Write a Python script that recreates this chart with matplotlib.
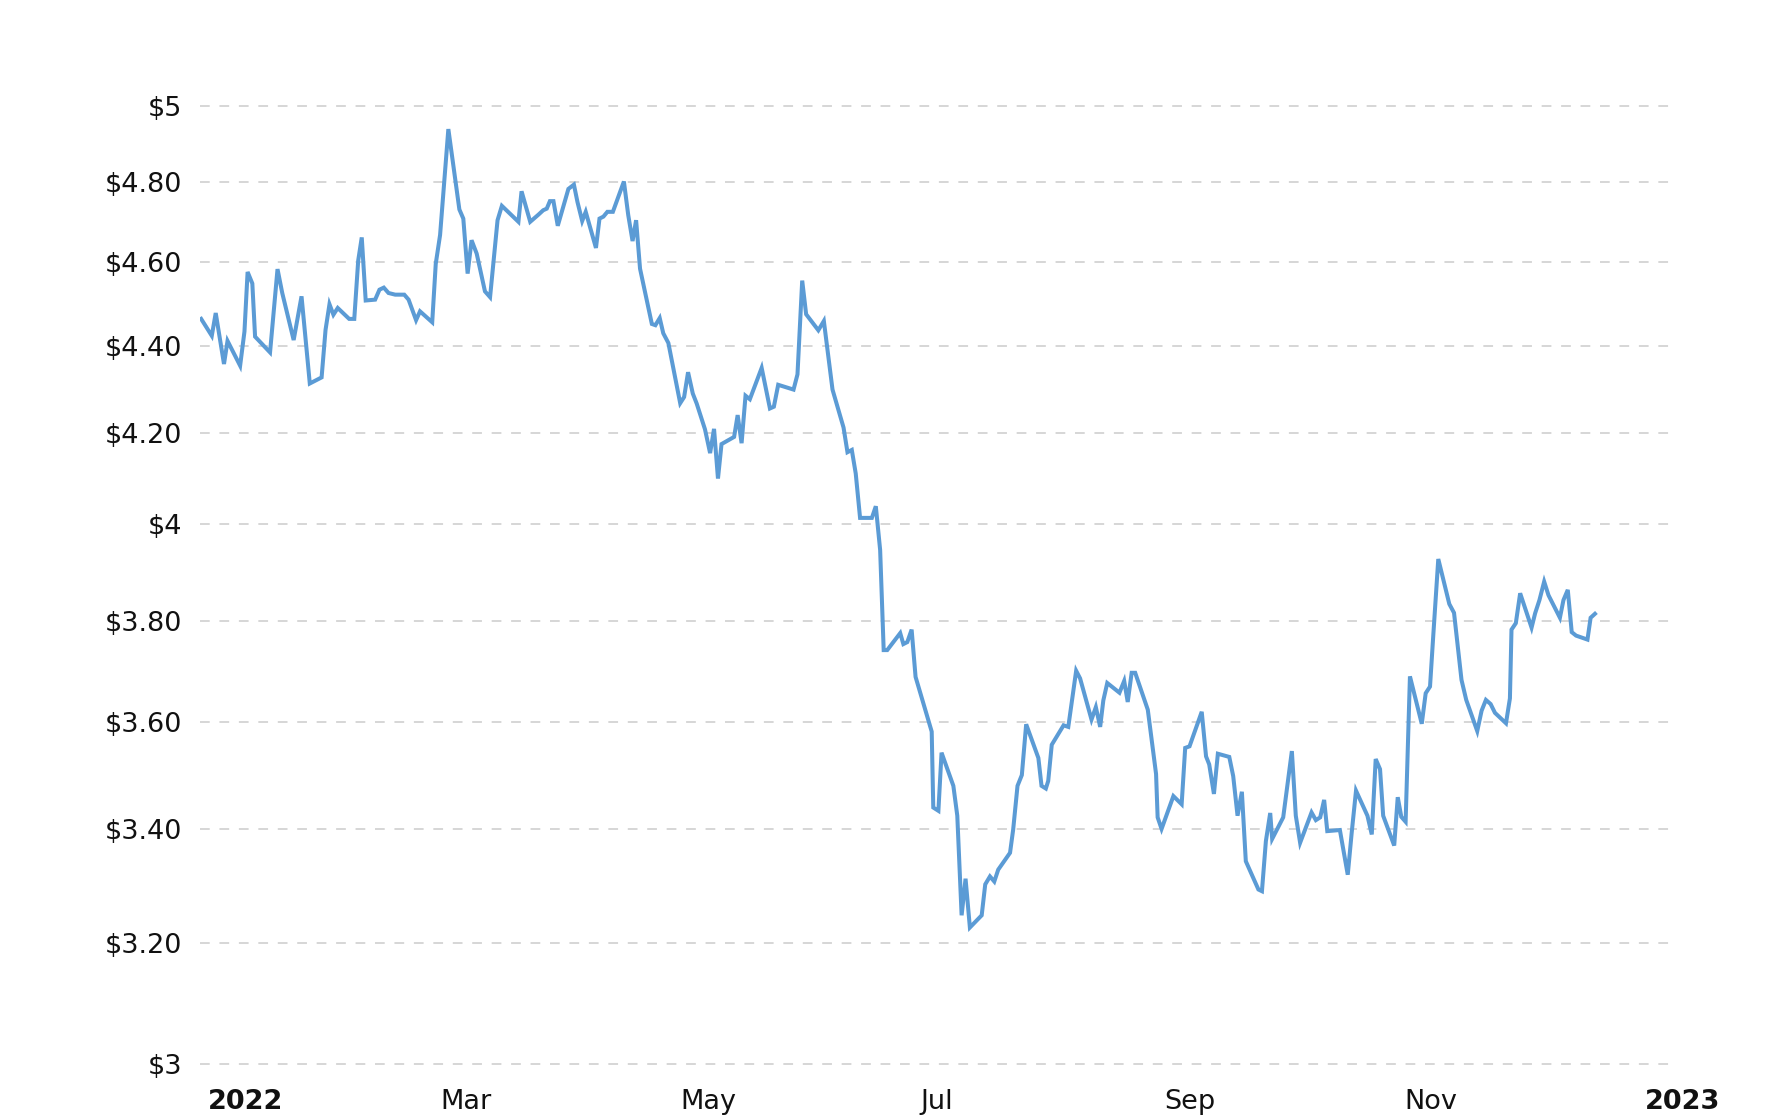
import matplotlib
matplotlib.use('Agg')
import matplotlib.pyplot as plt
import matplotlib.transforms as mtransforms
import pandas as pd

# days after 2022-01-01, price in $
days = [-0.7, 2.0, 3.0, 5.1, 6.0, 9.2, 10.3, 11.1, 12.3, 13.0,
        16.8, 18.7, 19.9, 22.8, 24.8, 26.9, 29.9, 30.9, 31.9, 32.9,
        34.0, 36.9, 38.2, 39.2, 40.1, 41.1, 43.5, 44.6, 45.7, 46.9,
        48.6, 50.9, 52.0, 53.9, 54.9, 58.0, 58.9, 60.0, 62.1, 64.9,
        65.9, 67.0, 68.0, 69.3, 71.4,
        72.7, 74.6, 75.7, 79.9, 80.7, 82.9, 85.0, 86.2, 87.1, 87.9,
        88.8, 89.9, 92.6, 94.0, 94.9, 96.1, 97.0, 99.6, 100.5, 101.5,
        102.5, 103.9, 106.7, 107.8, 108.9, 109.8, 110.8, 113.8, 114.7, 115.8,
        116.7, 118.0, 121.0, 122.0, 123.0, 124.2, 125.2, 127.3, 128.6,
        129.6, 130.6, 131.5, 134.7, 135.6, 136.6, 137.6, 138.7, 141.7, 143.8,
        144.8, 145.9, 149.8, 150.8, 152.0, 153.0, 156.1, 157.5, 159.7, 162.5,
        163.5, 164.6, 165.6, 166.7, 169.7, 170.7, 171.8, 172.7,
        173.6, 176.9, 177.7, 178.7, 179.8, 180.8, 182.8, 184.9, 185.3, 186.6,
        187.4, 190.4, 191.4, 192.5, 193.5, 194.6, 197.6, 198.5, 199.7, 200.8,
        201.8, 204.8, 205.6, 206.7,
        207.8, 208.9, 212.0, 212.8, 213.9, 214.5, 215.4, 218.4, 219.6, 221.6,
        222.6, 225.5, 226.6, 227.7, 228.5, 229.5, 232.6, 233.8, 234.7, 235.7,
        236.6, 239.8, 241.9, 242.3, 243.3, 246.3, 248.4, 249.3, 250.4, 253.5,
        254.6, 255.4, 256.6, 257.6, 260.5, 261.5, 262.6, 263.7, 264.7,
        267.9, 268.8, 269.8, 270.9, 271.4, 274.2, 276.4, 277.4, 278.5, 281.4,
        282.5, 283.6, 284.6, 285.4, 288.6, 290.6, 291.6, 292.7, 295.6, 296.7,
        297.7, 298.8, 299.6, 302.4, 303.3, 304.2, 305.3, 306.4, 309.4, 310.4,
        311.5, 312.3, 313.6, 316.4, 317.6, 319.5, 320.7,
        323.5, 324.6, 325.7, 326.9, 328.0, 330.8, 331.8, 332.2, 333.3, 334.4,
        337.3, 338.2, 339.3, 340.5, 341.6, 344.5, 345.4, 346.5, 347.5, 348.6,
        351.5, 352.3, 353.4]

prices = [4.463, 4.423, 4.477, 4.357, 4.411, 4.353, 4.433, 4.576, 4.548, 4.421,
          4.384, 4.583, 4.525, 4.413, 4.517, 4.312, 4.326, 4.437, 4.498, 4.473,
          4.489, 4.463, 4.463, 4.604, 4.661, 4.507, 4.509, 4.533, 4.538, 4.525,
          4.521, 4.521, 4.509, 4.460, 4.481, 4.455, 4.596, 4.667, 4.938, 4.731,
          4.708, 4.572, 4.654, 4.621, 4.529,
          4.515, 4.704, 4.740, 4.700, 4.777, 4.700, 4.718, 4.729, 4.733, 4.752,
          4.752, 4.690, 4.783, 4.794, 4.750, 4.702, 4.725, 4.635, 4.708, 4.713,
          4.725, 4.725, 4.802, 4.717, 4.652, 4.704, 4.584, 4.451, 4.448, 4.465,
          4.429, 4.406, 4.267, 4.281, 4.338, 4.289, 4.266, 4.208, 4.155,
          4.209, 4.099, 4.175, 4.191, 4.240, 4.177, 4.284, 4.276, 4.348, 4.255,
          4.259, 4.309, 4.298, 4.333, 4.555, 4.474, 4.436, 4.458, 4.298, 4.212,
          4.157, 4.162, 4.110, 4.014, 4.014, 4.039, 3.946, 3.741,
          3.741, 3.775, 3.753, 3.757, 3.782, 3.688, 3.636, 3.582, 3.440, 3.434,
          3.542, 3.480, 3.425, 3.248, 3.312, 3.227, 3.248, 3.302, 3.316, 3.307,
          3.328, 3.358, 3.400, 3.480,
          3.500, 3.596, 3.532, 3.480, 3.475, 3.489, 3.557, 3.594, 3.591, 3.700,
          3.685, 3.605, 3.629, 3.591, 3.642, 3.676, 3.657, 3.680, 3.639, 3.696,
          3.696, 3.624, 3.502, 3.422, 3.401, 3.461, 3.446, 3.551, 3.554, 3.620,
          3.535, 3.520, 3.465, 3.540, 3.534, 3.498, 3.425, 3.469, 3.343,
          3.293, 3.290, 3.379, 3.430, 3.383, 3.422, 3.545, 3.425, 3.376, 3.431,
          3.417, 3.422, 3.454, 3.397, 3.399, 3.319, 3.394, 3.471, 3.425, 3.391,
          3.530, 3.511, 3.425, 3.371, 3.459, 3.423, 3.414, 3.689, 3.597, 3.656,
          3.669, 3.767, 3.927, 3.834, 3.816, 3.682, 3.643,
          3.583, 3.622, 3.643, 3.635, 3.618, 3.598, 3.646, 3.782, 3.795, 3.856,
          3.786, 3.815, 3.842, 3.880, 3.852, 3.806, 3.842, 3.863, 3.777, 3.770,
          3.762, 3.806, 3.814]

y_ticks = [3.0, 3.2, 3.4, 3.6, 3.8, 4.0, 4.2, 4.4, 4.6, 4.8, 5.0]
y_labels = ['$3', '$3.20', '$3.40', '$3.60', '$3.80', '$4', '$4.20',
            '$4.40', '$4.60', '$4.80', '$5']
x_ticks = ['2022-01-01', '2022-03-01', '2022-05-01', '2022-07-01',
           '2022-09-01', '2022-11-01', '2023-01-01']
x_labels = ['2022', 'Mar', 'May', 'Jul', 'Sep', 'Nov', '2023']

base = pd.Timestamp('2022-01-01')
dates = base + pd.to_timedelta(days, unit='D')

fig = plt.figure(figsize=(17.76, 11.2), dpi=100)
ax = fig.add_axes([0.1126, 0.0491, 0.8300, 0.8569])

ax.plot(dates, prices, color='#5b9bd5', linewidth=2.9, solid_joinstyle='miter',
        zorder=3)

ax.set_yscale('log')
ax.set_ylim(2.999, 5.001)
ax.set_yticks(y_ticks)
ax.set_yticklabels(y_labels)
ax.yaxis.set_minor_locator(matplotlib.ticker.NullLocator())

ax.set_xlim(base + pd.Timedelta(days=-1), base + pd.Timedelta(days=373.5))
ax.set_xticks(pd.to_datetime(x_ticks))
ax.set_xticklabels(x_labels)

ax.grid(axis='y', color='#d6d6d6', linewidth=1.4, linestyle=(0, (5, 5)))
ax.set_axisbelow(True)
for s in ax.spines.values():
    s.set_visible(False)

ax.tick_params(axis='both', length=0, labelsize=19.5, colors='#111111')
ax.tick_params(axis='y', pad=13)
ax.tick_params(axis='x', pad=17)

offset = mtransforms.ScaledTranslation(4 / 100, 0, fig.dpi_scale_trans)
for lbl in ax.get_xticklabels():
    lbl.set_horizontalalignment('left')
    lbl.set_transform(lbl.get_transform() + offset)
    if lbl.get_text() in ('2022', '2023'):
        lbl.set_fontweight('bold')

fig.savefig('out.png', dpi=100, facecolor='white')
